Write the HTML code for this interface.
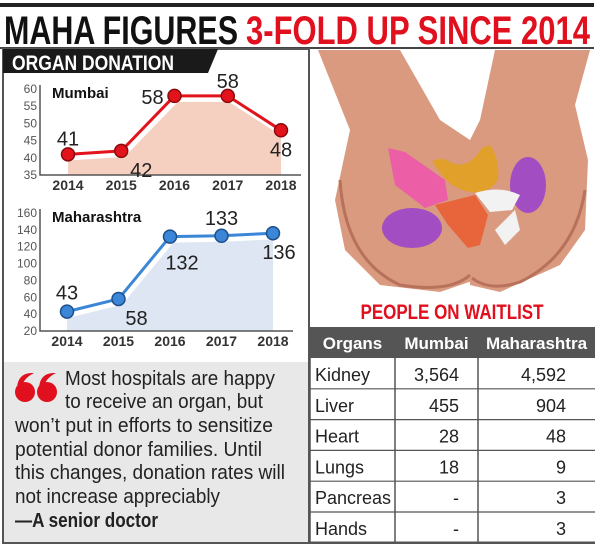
<!DOCTYPE html>
<html><head><meta charset="utf-8"><style>
html,body{margin:0;padding:0;background:#fff}
svg{display:block}
text{font-family:"Liberation Sans Narrow","Liberation Sans",sans-serif}
</style></head><body>
<svg id="root" width="600" height="547" viewBox="0 0 600 547" xmlns="http://www.w3.org/2000/svg">
<rect width="600" height="547" fill="#fff"/>
<rect x="0" y="3" width="594" height="4" fill="#222"/>
<text x="4" y="44" font-size="40" font-weight="bold" fill="#111" textLength="234" lengthAdjust="spacingAndGlyphs">MAHA FIGURES</text>
<text x="246" y="44" font-size="40" font-weight="bold" fill="#e0101e" textLength="344" lengthAdjust="spacingAndGlyphs">3-FOLD UP SINCE 2014</text>
<rect x="0" y="47" width="594" height="2" fill="#444"/>

<rect x="3" y="49" width="306" height="494" fill="none" stroke="#555" stroke-width="2"/>
<polygon points="3,49 218,49 208,73 3,73" fill="#1a1a1a"/>
<text x="12" y="70" font-size="21" font-weight="bold" fill="#fff" textLength="162" lengthAdjust="spacingAndGlyphs">ORGAN DONATION</text>

<g id="chart1"></g>
<g id="chart2"></g>

<rect x="4" y="362" width="304" height="180" fill="#e8e8e8"/>
<g fill="#e0101e">
<circle cx="25" cy="392" r="10"/><path d="M17,388 Q18,372 34,373 Q24,378 22,386Z"/>
<circle cx="47" cy="392" r="10"/><path d="M39,388 Q40,372 56,373 Q46,378 44,386Z"/>
</g>
<g font-size="20" fill="#222">
<text x="65" y="385" textLength="210" lengthAdjust="spacingAndGlyphs">Most hospitals are happy</text>
<text x="65" y="408" textLength="198" lengthAdjust="spacingAndGlyphs">to receive an organ, but</text>
<text x="15" y="432" textLength="258" lengthAdjust="spacingAndGlyphs">won’t put in efforts to sensitize</text>
<text x="15" y="456" textLength="247" lengthAdjust="spacingAndGlyphs">potential donor families. Until</text>
<text x="15" y="479" textLength="270" lengthAdjust="spacingAndGlyphs">this changes, donation rates will</text>
<text x="15" y="503" textLength="205" lengthAdjust="spacingAndGlyphs">not increase appreciably</text>
<text x="15" y="527" font-weight="bold" textLength="143" lengthAdjust="spacingAndGlyphs">—A senior doctor</text>
</g>

<g>
<path d="M318,50 L400,50 L440,120 L470,140 L475,280 L440,292 L380,285 L345,250 L335,200 L350,130 Z" fill="#d99a80"/>
<path d="M495,50 L590,50 L575,105 L588,160 L585,230 L560,265 L500,292 L470,285 L470,140 L480,120 Z" fill="#d99a80"/>
<path d="M340,180 Q345,260 400,285 Q450,293 470,275" fill="none" stroke="#b8715a" stroke-width="3"/>
<path d="M585,190 Q575,255 520,282 Q490,292 472,278" fill="none" stroke="#b8715a" stroke-width="3"/>
<path d="M388,148 L405,152 L445,180 L448,200 L425,208 L395,185 Z" fill="#ec5fa6"/>
<path d="M432,162 Q440,155 452,163 Q468,170 482,148 L490,145 Q500,160 498,180 Q488,195 470,192 Q450,188 440,172 Z" fill="#e0a02a"/>
<ellipse cx="412" cy="228" rx="30" ry="20" fill="#a24dc2"/>
<ellipse cx="528" cy="185" rx="18" ry="28" fill="#a24dc2"/>
<path d="M435,205 L475,195 L488,215 L480,245 L468,248 L448,225 Z" fill="#e8643a"/>
<path d="M475,193 Q500,185 520,195 L512,210 L490,212 Z" fill="#f2f2f2"/>
<path d="M495,230 L515,210 L520,230 L505,245 Z" fill="#f2f2f2"/>
</g>

<text x="452" y="319" text-anchor="middle" font-size="21" font-weight="bold" fill="#e0101e" textLength="183" lengthAdjust="spacingAndGlyphs">PEOPLE ON WAITLIST</text>
<g id="table"></g>
</svg>
<script>
const years = ["2014","2015","2016","2017","2018"];
const mumbaiValues = [41,42,58,58,48];
const mumbaiTicks = [35,40,45,50,55,60];
const mahaValues = [43,58,132,133,136];
const mahaTicks = [20,40,60,80,100,120,140,160];
const organs = ["Kidney","Liver","Heart","Lungs","Pancreas","Hands"];
const mumbaiWait = ["3,564","455","28","18","-","-"];
const mahaWait = ["4,592","904","48","9","3","3"];
const NS="http://www.w3.org/2000/svg";
function mk(tag,attrs,parent){const e=document.createElementNS(NS,tag);for(const k in attrs)e.setAttribute(k,attrs[k]);parent.appendChild(e);return e;}

function drawChart(g,cfg){
  const xs=i=>cfg.x0+i*(cfg.x1-cfg.x0)/(years.length-1);
  const ys=v=>cfg.yb+(v-cfg.min)/(cfg.max-cfg.min)*(cfg.yt-cfg.yb);
  let d="M"+xs(0)+","+cfg.yb;
  cfg.vals.forEach((v,i)=>d+=" L"+xs(i)+","+ys(v));
  d+=" L"+xs(cfg.vals.length-1)+","+cfg.yb+"Z";
  const area=mk("path",{d:d,fill:cfg.fill},g);
  
  
  const ax=mk("path",{d:`M${cfg.ax},${cfg.yt-4} L${cfg.ax},${cfg.yb} L${cfg.x1+20},${cfg.yb}`,fill:"none",stroke:"#555","stroke-width":1.5},g);
  
  
  cfg.ticks.forEach(t=>{
    const tx=mk("text",{x:cfg.ax-3,y:ys(t)+4,"text-anchor":"end","font-size":12,fill:"#555"},g);
    tx.textContent=t;
    
    
  });
  years.forEach((yr,i)=>{
    const tx=mk("text",{x:xs(i),y:cfg.yb+15,"text-anchor":"middle","font-size":14,"font-weight":"bold",fill:"#333"},g);
    tx.textContent=yr;
    
    
  });
  const pts=cfg.vals.map((v,i)=>xs(i)+","+ys(v)).join(" ");
  const sh=mk("polyline",{points:cfg.vals.map((v,i)=>(xs(i)+2)+","+(ys(v)+3)).join(" "),fill:"none",stroke:"#fff","stroke-width":6},g);
  
  
  const ln=mk("polyline",{points:pts,fill:"none",stroke:cfg.color,"stroke-width":3},g);
  
  
  cfg.vals.forEach((v,i)=>{
    const c=mk("circle",{cx:xs(i),cy:ys(v),r:6.5,fill:cfg.color,stroke:cfg.dark,"stroke-width":1.5},g);
    
    
    const t=mk("text",{x:xs(i)+cfg.dx[i],y:ys(v)+cfg.dy[i],"text-anchor":"middle","font-size":20,fill:"#222"},g);
    t.textContent=v;
    
    
  });
  const ti=mk("text",{x:cfg.ax+12,y:cfg.yt+9,"font-size":15,"font-weight":"bold",fill:"#111"},g);
  ti.textContent=cfg.title;
  
  
}
drawChart(document.getElementById("chart1"),{vals:mumbaiValues,ticks:mumbaiTicks,min:35,max:60,yt:89,yb:175,x0:68,x1:281,ax:40,color:"#e3131b",dark:"#8a0a0f",fill:"#f5d0c0",dx:[0,20,-22,0,0],dy:[-9,26,8,-8,26],title:"Mumbai"});
drawChart(document.getElementById("chart2"),{vals:mahaValues,ticks:mahaTicks,min:20,max:160,yt:213,yb:331,x0:67,x1:273,ax:40,color:"#3b86d6",dark:"#1d4f8a",fill:"#dde6f2",dx:[0,18,12,0,6],dy:[-12,26,33,-11,26],title:"Maharashtra"});

const tg=document.getElementById("table");
const cols=[310,395,478,595];
const tblTop=327,hh=31,rh=30.8;
const hd=mk("rect",{x:310,y:tblTop,width:285,height:hh,fill:"#555"},tg);


["Organs","Mumbai","Maharashtra"].forEach((h,i)=>{
  const t=mk("text",{x:(cols[i]+cols[i+1])/2,y:tblTop+22,"text-anchor":"middle","font-size":17,"font-weight":"bold",fill:"#fff"},tg);
  t.textContent=h;
  
  
});
organs.forEach((o,r)=>{
  const y=tblTop+hh+r*rh;
  const l=mk("line",{x1:310,x2:595,y1:y+rh,y2:y+rh,stroke:"#555","stroke-width":r==organs.length-1?2.5:1.2},tg);
  
  
  const a=mk("text",{x:315,y:y+23,"font-size":18,fill:"#222"},tg);a.textContent=o;
  
  
  const b=mk("text",{x:459,y:y+23,"font-size":18,fill:"#222","text-anchor":"end"},tg);b.textContent=mumbaiWait[r];
  
  
  const c=mk("text",{x:566,y:y+23,"font-size":18,fill:"#222","text-anchor":"end"},tg);c.textContent=mahaWait[r];
  
  
});
const tblBottom=tblTop+hh+organs.length*rh;
[310,395,478].forEach(x=>{
  const l=mk("line",{x1:x,x2:x,y1:tblTop,y2:tblBottom,stroke:"#555","stroke-width":1.5},tg);
  
  
});
</script>
</body></html>
